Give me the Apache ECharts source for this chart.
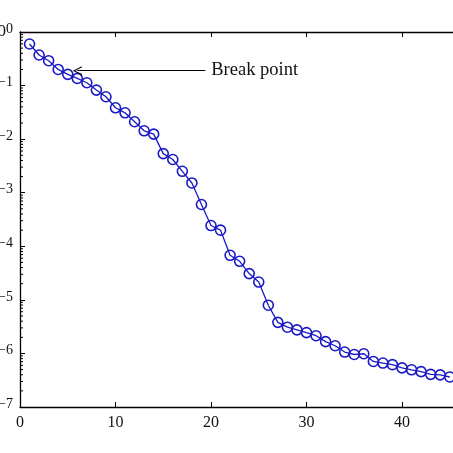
<!DOCTYPE html>
<html>
<head>
    <meta charset="utf-8">
    <title>Break point</title>
    <script src="https://cdn.jsdelivr.net/npm/echarts@6/dist/echarts.min.js"></script>
    <style>
        html, body {margin: 0; padding: 0; background: #fff;}
        #chart {width: 453px; height: 453px;}
    </style>
</head>
<body>
<div id="chart"></div>
<script>
    // iteration index and residual
    var iterations = [1, 2, 3, 4, 5, 6, 7, 8, 9, 10, 11, 12, 13, 14, 15, 16, 17, 18, 19, 20, 21, 22, 23,
        24, 25, 26, 27, 28, 29, 30, 31, 32, 33, 34, 35, 36, 37, 38, 39, 40, 41, 42, 43, 44, 45];
    var residuals = [5.97e-1, 3.72e-1, 2.91e-1, 2.0e-1, 1.62e-1, 1.36e-1, 1.13e-1, 8.24e-2, 6.18e-2, 3.85e-2,
        3.10e-2, 2.11e-2, 1.43e-2, 1.24e-2, 5.37e-3, 4.17e-3, 2.51e-3, 1.52e-3, 6.03e-4, 2.44e-4,
        2.0e-4, 6.79e-5, 5.25e-5, 3.09e-5, 2.15e-5, 7.94e-6, 3.80e-6, 3.09e-6, 2.75e-6, 2.45e-6,
        2.14e-6, 1.66e-6, 1.39e-6, 1.06e-6, 9.55e-7, 9.86e-7, 7.08e-7, 6.61e-7, 6.17e-7, 5.37e-7,
        4.95e-7, 4.57e-7, 4.07e-7, 3.98e-7, 3.63e-7];
    var xTicks = [0, 10, 20, 30, 40, 50];
    var yDecades = [0, -1, -2, -3, -4, -5, -6, -7];
    // annotation: arrow from the label to the break point
    var breakLabel = 'Break point';
    var breakArrow = [[19.4, 1.9e-1], [6.0, 1.9e-1]];

    var blue = '#1a1ac4';
    var serif = 'Liberation Serif';

    // minor ticks of the log axis (2..9 in every decade)
    var minorTicks = [];
    for (var d = 0; d < yDecades.length - 1; d++) {
        for (var m = 2; m <= 9; m++) {
            minorTicks.push([0, m * Math.pow(10, yDecades[d + 1])]);
        }
    }

    var chart = echarts.init(document.getElementById('chart'));

    var option = {
        animation: false,
        grid: {left: 20, top: 32, bottom: 46, right: -44.5, containLabel: false, outerBoundsMode: 'none'},
        xAxis: [
            {
                type: 'value', min: xTicks[0], max: xTicks[xTicks.length - 1], interval: 10,
                axisLine: {show: true, lineStyle: {color: '#000', width: 1.3}},
                axisTick: {show: true, inside: true, length: 5, lineStyle: {color: '#000'}},
                axisLabel: {color: '#111', fontFamily: serif, fontSize: 16, margin: 8},
                splitLine: {show: false}
            },
            {
                type: 'value', position: 'top', min: xTicks[0], max: xTicks[xTicks.length - 1], interval: 10,
                axisLine: {show: true, onZero: false, lineStyle: {color: '#000', width: 1.3}},
                axisTick: {show: true, inside: true, length: 5, lineStyle: {color: '#000'}},
                axisLabel: {show: false},
                splitLine: {show: false}
            }
        ],
        yAxis: {
            type: 'log', logBase: 10, min: 1e-7, max: 1, interval: 1,
            axisLine: {show: true, lineStyle: {color: '#000', width: 1.3}},
            axisTick: {show: true, inside: true, length: 5, lineStyle: {color: '#000'}},
            splitLine: {show: false},
            axisLabel: {
                margin: 7,
                formatter: function (v) {
                    var e = Math.round(Math.log(v) / Math.LN10);
                    var s = e < 0 ? '\u2212' + (-e) : '' + e;
                    return '{b|10}{e|' + s + '}';
                },
                rich: {
                    b: {fontFamily: serif, fontSize: 17, color: '#111'},
                    e: {fontFamily: serif, fontSize: 14, color: '#111', padding: [0, 0, 6, 0]}
                }
            }
        },
        series: [
            {
                type: 'line',
                data: iterations.map(function (x, i) { return [x, residuals[i]]; }),
                symbol: 'circle',
                symbolSize: 10,
                lineStyle: {color: blue, width: 1.3},
                itemStyle: {color: 'rgba(0,0,0,0)', borderColor: blue, borderWidth: 1.6},
                markLine: {
                    silent: true,
                    symbol: ['none', 'path://M0,10 L5,0 L10,10 L8.6,10 L5,2.6 L1.4,10 Z'],
                    symbolSize: [9, 9],
                    lineStyle: {color: '#000', width: 1, type: 'solid'},
                    label: {
                        show: true, position: 'start', formatter: breakLabel,
                        color: '#111', fontFamily: serif, fontSize: 18.5, distance: 6
                    },
                    data: [[{coord: breakArrow[0]}, {coord: breakArrow[1]}]]
                },
                z: 3
            },
            {
                type: 'custom',
                silent: true,
                clip: false,
                data: minorTicks,
                renderItem: function (params, api) {
                    var p = api.coord([api.value(0), api.value(1)]);
                    return {
                        type: 'line',
                        shape: {x1: p[0], y1: p[1], x2: p[0] + 3, y2: p[1]},
                        style: {stroke: '#000', lineWidth: 1}
                    };
                },
                z: 2
            }
        ]
    };
    chart.setOption(option);
</script>
</body>
</html>
